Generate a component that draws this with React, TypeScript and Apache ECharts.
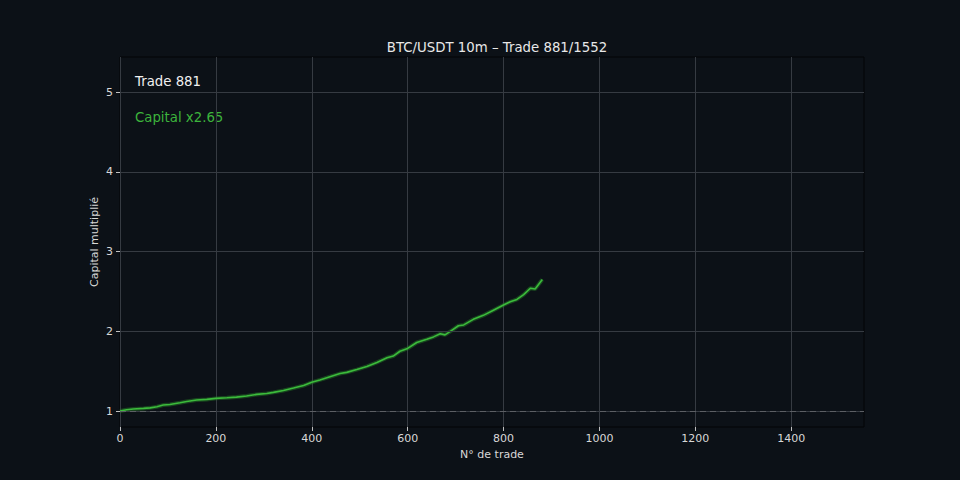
import React, { useEffect, useRef } from "react";
import * as echarts from "echarts";

const trades = [0, 14, 28, 49, 63, 77, 90, 104, 125, 139, 160, 181, 200, 223, 243, 264, 285, 306, 320, 341, 362, 383, 400, 417, 438, 459, 473, 494, 515, 536, 557, 570, 584, 600, 619, 640, 654, 668, 678, 689, 706, 717, 737, 758, 779, 800, 814, 828, 842, 856, 866, 881];
const capital = [1.0, 1.017, 1.025, 1.033, 1.04, 1.054, 1.075, 1.083, 1.104, 1.12, 1.138, 1.146, 1.159, 1.167, 1.175, 1.188, 1.209, 1.22, 1.234, 1.258, 1.288, 1.32, 1.36, 1.39, 1.43, 1.47, 1.485, 1.52, 1.56, 1.61, 1.668, 1.69, 1.75, 1.785, 1.86, 1.9, 1.93, 1.97, 1.955, 2.0, 2.07, 2.08, 2.15, 2.2, 2.265, 2.33, 2.37, 2.4, 2.46, 2.54, 2.53, 2.65];
const xTicks = [0, 200, 400, 600, 800, 1000, 1200, 1400];
const yTicks = [1, 2, 3, 4, 5];
const totalTrades = 1552;
const currentTrade = 881;
const finalCapital = 2.65;
const baseline = 1;

const FONT = "DejaVu Sans";

export default function App() {
  const ref = useRef<HTMLDivElement>(null);
  useEffect(() => {
    const chart = echarts.init(ref.current!, null, { renderer: "svg" });
    const pts = trades.map((t, i) => [t, capital[i]]);
    chart.setOption({
      animation: false,
      backgroundColor: "#0c1117",
      textStyle: { fontFamily: FONT },
      title: {
        text: `BTC/USDT 10m – Trade ${currentTrade}/${totalTrades}`,
        left: 492,
        top: 36,
        textAlign: "center",
        textStyle: { color: "#e8e8e8", fontSize: 13.3, fontWeight: "normal", fontFamily: FONT },
      },
      grid: {
        left: 120,
        right: 96,
        top: 57,
        bottom: 53,
        show: true,
        backgroundColor: "#0c1117",
        borderColor: "#030507",
        borderWidth: 1,
      },
      xAxis: {
        type: "value",
        min: 0,
        max: totalTrades,
        interval: 200,
        name: "N° de trade",
        nameLocation: "middle",
        nameGap: 21,
        nameTextStyle: { color: "#d8d8d8", fontSize: 11, fontFamily: FONT },
        axisLine: { show: false },
        axisTick: { show: true, length: 4, lineStyle: { color: "#c0c0c0" }, customValues: xTicks },
        axisLabel: {
          color: "#d8d8d8",
          fontSize: 11,
          margin: 6,
          fontFamily: FONT,
          customValues: xTicks,
          formatter: (v: number) => String(v),
        },
        splitLine: { show: true, lineStyle: { color: "#363b42", width: 1 } },
      },
      yAxis: {
        type: "value",
        min: 0.8,
        max: 5.44,
        name: "Capital multiplié",
        nameLocation: "middle",
        nameGap: 20,
        nameMoveOverlap: false,
        nameTextStyle: { color: "#d8d8d8", fontSize: 11, fontFamily: FONT },
        axisLine: { show: false },
        axisTick: { show: true, length: 4, lineStyle: { color: "#c0c0c0" }, customValues: yTicks },
        axisLabel: {
          color: "#d8d8d8",
          fontSize: 11,
          margin: 7,
          fontFamily: FONT,
          customValues: yTicks,
          formatter: (v: number) => String(v),
        },
        splitLine: { show: false },
      },
      graphic: [
        {
          type: "text",
          left: 135,
          top: 75,
          style: { text: `Trade ${currentTrade}`, fill: "#f0f0f0", fontSize: 13.3, fontFamily: FONT },
        },
        {
          type: "text",
          left: 135,
          top: 111,
          style: { text: `Capital x${finalCapital.toFixed(2)}`, fill: "#3cb43c", fontSize: 13.3, fontFamily: FONT },
        },
      ],
      series: [
        {
          type: "line",
          data: [],
          silent: true,
          markLine: {
            silent: true,
            symbol: "none",
            label: { show: false },
            lineStyle: { color: "#363b42", width: 1, type: "solid" },
            data: yTicks.map((v) => ({ yAxis: v })),
          },
        },
        {
          type: "line",
          data: [],
          silent: true,
          markLine: {
            silent: true,
            symbol: "none",
            label: { show: false },
            lineStyle: { color: "#5c5f64", width: 1, type: [6, 4] },
            data: [{ yAxis: baseline }],
          },
        },
        {
          type: "line",
          data: pts,
          showSymbol: false,
          silent: true,
          lineStyle: { color: "rgba(40,130,40,0.45)", width: 4 },
        },
        {
          type: "line",
          data: pts,
          showSymbol: false,
          silent: true,
          lineStyle: { color: "#3cbb3c", width: 1.6 },
        },
      ],
    });
    return () => chart.dispose();
  }, []);
  return <div ref={ref} style={{ position: "fixed", left: 0, top: 0, width: 960, height: 480 }} />;
}
